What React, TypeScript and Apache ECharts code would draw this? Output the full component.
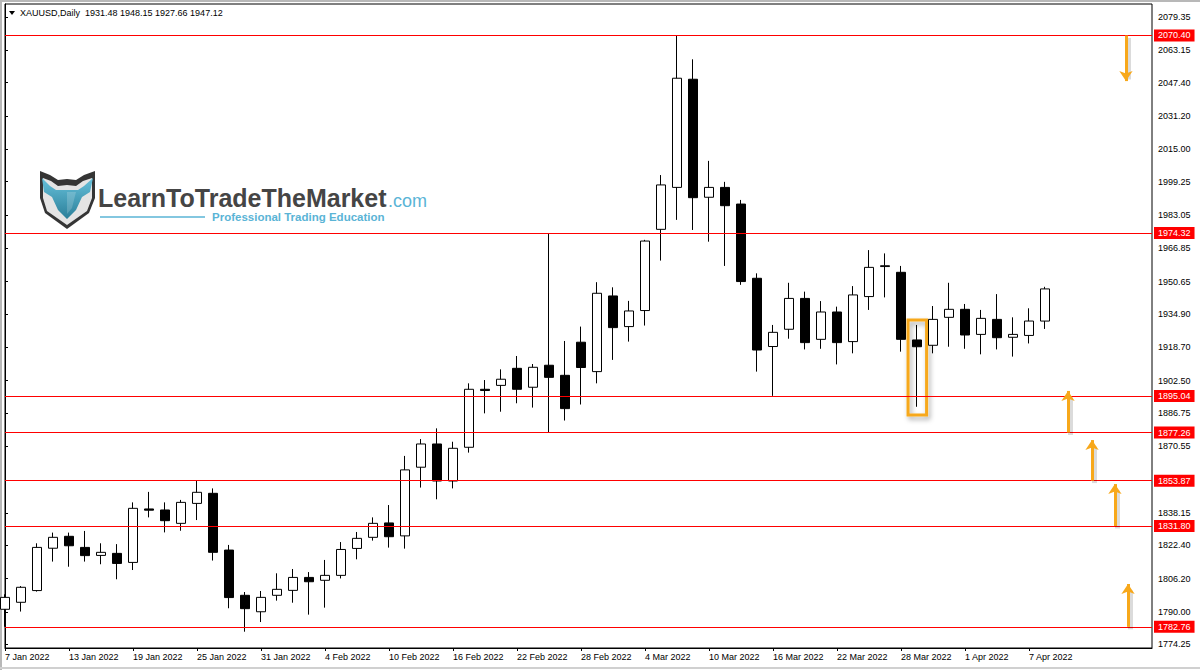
import React, { useEffect, useRef } from "react";
import * as echarts from "echarts";

// ---- data ----
const dates = [
  "7 Jan 2022", "10 Jan 2022", "11 Jan 2022", "12 Jan 2022", "13 Jan 2022", "14 Jan 2022",
  "17 Jan 2022", "18 Jan 2022", "19 Jan 2022", "20 Jan 2022", "21 Jan 2022", "24 Jan 2022",
  "25 Jan 2022", "26 Jan 2022", "27 Jan 2022", "28 Jan 2022", "31 Jan 2022", "1 Feb 2022",
  "2 Feb 2022", "3 Feb 2022", "4 Feb 2022", "7 Feb 2022", "8 Feb 2022", "9 Feb 2022",
  "10 Feb 2022", "11 Feb 2022", "14 Feb 2022", "15 Feb 2022", "16 Feb 2022", "17 Feb 2022",
  "18 Feb 2022", "21 Feb 2022", "22 Feb 2022", "23 Feb 2022", "24 Feb 2022", "25 Feb 2022",
  "28 Feb 2022", "1 Mar 2022", "2 Mar 2022", "3 Mar 2022", "4 Mar 2022", "7 Mar 2022",
  "8 Mar 2022", "9 Mar 2022", "10 Mar 2022", "11 Mar 2022", "14 Mar 2022", "15 Mar 2022",
  "16 Mar 2022", "17 Mar 2022", "18 Mar 2022", "21 Mar 2022", "22 Mar 2022", "23 Mar 2022",
  "24 Mar 2022", "25 Mar 2022", "28 Mar 2022", "29 Mar 2022", "30 Mar 2022", "31 Mar 2022",
  "1 Apr 2022", "4 Apr 2022", "5 Apr 2022", "6 Apr 2022", "7 Apr 2022", "8 Apr 2022",
];
const opens = [
  1791.3, 1794.7, 1800.4, 1821.0, 1826.8, 1821.4, 1817.5, 1818.5, 1814.1, 1840.1, 1839.6, 1833.1,
  1842.8, 1847.7, 1820.1, 1798.1, 1790.1, 1798.1, 1800.5, 1806.8, 1805.4, 1807.8, 1820.9, 1826.3,
  1833.3, 1827.0, 1860.4, 1871.7, 1853.7, 1870.1, 1898.3, 1900.2, 1908.5, 1899.3, 1910.0, 1905.1,
  1921.2, 1906.9, 1943.7, 1928.8, 1936.6, 1976.1, 1996.5, 2049.1, 1991.7, 1996.5, 1988.4, 1952.3,
  1919.1, 1927.5, 1942.5, 1922.6, 1935.9, 1921.5, 1943.4, 1958.0, 1955.2, 1922.3, 1919.7, 1933.3,
  1937.2, 1925.0, 1932.3, 1923.6, 1924.5, 1931.48,
];
const highs = [
  1798.6, 1802.6, 1823.4, 1828.6, 1828.6, 1829.4, 1823.4, 1823.0, 1843.3, 1848.4, 1843.3, 1844.5,
  1853.7, 1850.1, 1822.6, 1799.7, 1800.2, 1808.8, 1810.9, 1809.4, 1815.3, 1824.0, 1828.9, 1836.0,
  1842.0, 1865.9, 1874.1, 1879.3, 1872.8, 1901.2, 1902.8, 1908.0, 1914.5, 1910.6, 1974.32, 1921.8,
  1928.8, 1950.4, 1947.9, 1941.3, 1971.0, 2002.5, 2070.4, 2058.8, 2009.4, 1999.2, 1990.4, 1954.7,
  1929.6, 1950.1, 1945.8, 1941.2, 1938.5, 1948.5, 1966.0, 1964.4, 1958.3, 1929.6, 1938.8, 1950.1,
  1939.8, 1936.9, 1944.6, 1933.3, 1937.7, 1948.15,
];
const lows = [
  1782.8, 1790.2, 1799.9, 1814.5, 1812.0, 1814.5, 1813.2, 1805.9, 1810.4, 1836.0, 1828.7, 1829.5,
  1834.7, 1815.0, 1791.8, 1780.4, 1785.1, 1795.5, 1794.5, 1788.7, 1792.1, 1806.3, 1815.6, 1824.7,
  1821.3, 1820.8, 1850.5, 1844.8, 1850.1, 1867.5, 1886.6, 1887.4, 1891.5, 1889.4, 1877.3, 1883.1,
  1890.9, 1901.2, 1912.6, 1921.5, 1929.3, 1960.9, 1980.7, 1975.8, 1970.1, 1958.3, 1949.1, 1906.9,
  1895.1, 1922.9, 1917.7, 1918.0, 1910.4, 1915.8, 1936.9, 1943.0, 1916.6, 1889.8, 1915.8, 1919.0,
  1918.0, 1915.3, 1917.7, 1914.2, 1920.6, 1927.66,
];
const closes = [
  1797.1, 1802.0, 1821.4, 1826.3, 1822.2, 1817.4, 1819.0, 1813.6, 1840.4, 1839.5, 1834.4, 1843.3,
  1848.2, 1819.0, 1797.0, 1791.6, 1797.1, 1801.0, 1806.8, 1804.7, 1807.8, 1820.4, 1825.8, 1833.1,
  1826.6, 1859.1, 1871.7, 1853.7, 1869.6, 1898.3, 1897.7, 1903.2, 1898.3, 1909.0, 1904.1, 1888.9,
  1908.9, 1945.0, 1928.3, 1936.4, 1970.4, 1997.7, 2049.6, 1991.5, 1996.5, 1987.6, 1950.7, 1917.4,
  1926.0, 1942.5, 1921.0, 1935.9, 1921.0, 1944.2, 1957.6, 1958.4, 1922.6, 1919.0, 1932.3, 1937.2,
  1924.7, 1932.8, 1923.4, 1925.0, 1931.5, 1947.12,
];
const priceTicks = [
  2079.35, 2063.15, 2047.4, 2031.2, 2015.0, 1999.25, 1983.05, 1966.85, 1950.65, 1934.9,
  1918.7, 1902.5, 1886.75, 1870.55, 1838.15, 1822.4, 1806.2, 1790.0, 1774.25,
];
const levels = [2070.4, 1974.32, 1895.04, 1877.26, 1853.87, 1831.8, 1782.76];
// arrows: [bar position, start price, tip price]
const arrows = [
  [66.44, 1877.26, 1897.5],
  [67.94, 1853.87, 1873.6],
  [69.37, 1831.8, 1852.2],
  [70.19, 1782.76, 1803.6],
  [70.06, 2070.4, 2048.2],
];
// highlight box around the 29 Mar candle: [bar from, bar to, price low, price high]
const highlightBox = [56.44, 57.6, 1885.8, 1932.0];

const PRICE_MIN = 1772.47;
const PRICE_MAX = 2085.7;
const BARS_VISIBLE = 71.6875;

const FONT = "'Liberation Sans', Arial, sans-serif";
const ORANGE = "#F7A81B";

export default function App() {
  const ref = useRef<HTMLDivElement>(null);

  useEffect(() => {
    if (!ref.current) return;
    const chart = echarts.init(ref.current, undefined, { renderer: "svg" });

    const candleData = dates.map((_, i) => [i, opens[i], closes[i], lows[i], highs[i]]);
    const last = dates.length - 1;
    const f2 = (v: number) => v.toFixed(2);
    const labelIdx = dates.map((_, i) => i).filter((i) => i % 4 === 0);

    const markLineData: any[] = levels.map((v) => ({
      yAxis: v,
      label: { formatter: f2(v) },
    }));
    markLineData.push({
      yAxis: closes[last],
      lineStyle: { opacity: 0 },
      label: { formatter: f2(closes[last]), backgroundColor: "#000" },
    });
    // soft shadows of the arrows (drawn first, offset)
    arrows.forEach(([x, a, b]) => {
      const dir = b > a ? 1 : -1;
      markLineData.push([
        {
          coord: [x + 0.14, a - 1.2],
          symbol: "none",
          lineStyle: { color: "rgba(0,0,0,0.14)", width: 5, type: "solid" },
          label: { show: false },
        },
        { coord: [x + 0.14, b - 1.2 - dir * 2], symbol: "none" },
      ]);
    });
    arrows.forEach(([x, a, b]) => {
      markLineData.push([
        {
          coord: [x, a],
          symbol: "none",
          lineStyle: { color: ORANGE, width: 3, type: "solid" },
          label: { show: false },
        },
        { coord: [x, b], symbol: "arrow", symbolSize: [10, 10] },
      ]);
    });

    const option: any = {
      animation: false,
      backgroundColor: "#fff",
      grid: {
        left: 5,
        right: 48,
        top: 4,
        bottom: 22,
        show: true,
        borderColor: "#000",
        borderWidth: 1,
        backgroundColor: "#fff",
      },
      xAxis: {
        type: "value",
        min: 0,
        max: BARS_VISIBLE,
        splitLine: { show: false },
        axisLine: { show: true, lineStyle: { color: "#000", width: 1 } },
        axisTick: {
          show: true,
          length: 3,
          customValues: labelIdx,
          lineStyle: { color: "#000" },
        },
        axisLabel: {
          customValues: labelIdx,
          formatter: (v: number) => dates[Math.round(v)] ?? "",
          align: "left",
          margin: 4,
          color: "#000",
          fontSize: 9,
          fontFamily: FONT,
        },
      },
      yAxis: {
        type: "value",
        position: "right",
        min: PRICE_MIN,
        max: PRICE_MAX,
        scale: true,
        splitLine: { show: false },
        axisLine: { show: true, lineStyle: { color: "#000", width: 1 } },
        axisTick: {
          show: true,
          length: 3,
          customValues: priceTicks,
          lineStyle: { color: "#000" },
        },
        axisLabel: {
          customValues: priceTicks,
          formatter: (v: number) => f2(v),
          margin: 6,
          color: "#000",
          fontSize: 9,
          fontFamily: FONT,
        },
      },
      series: [
        {
          type: "candlestick",
          data: candleData,
          barWidth: 9,
          clip: true,
          itemStyle: {
            color: "#fff",
            color0: "#000",
            borderColor: "#000",
            borderColor0: "#000",
            borderColorDoji: "#000",
            borderWidth: 1,
          },
          markLine: {
            silent: true,
            symbol: "none",
            animation: false,
            lineStyle: { color: "#f00", width: 1, type: "solid" },
            label: {
              show: true,
              position: "end",
              distance: 2,
              color: "#fff",
              backgroundColor: "#f00",
              padding: [2, 4, 1, 4],
              fontSize: 9,
              fontFamily: FONT,
            },
            data: markLineData,
          },
          markArea: {
            silent: true,
            itemStyle: {
              color: "rgba(0,0,0,0)",
              borderColor: ORANGE,
              borderWidth: 3,
              shadowBlur: 5,
              shadowColor: "rgba(0,0,0,0.35)",
              shadowOffsetX: 2,
              shadowOffsetY: 3,
            },
            data: [
              [
                { coord: [highlightBox[0], highlightBox[3]] },
                { coord: [highlightBox[1], highlightBox[2]] },
              ],
            ],
          },
        },
      ],
      graphic: [
        // window edges
        { type: "rect", shape: { x: 0, y: 0, width: 1200, height: 2 }, style: { fill: "#b8b8b8" }, silent: true },
        { type: "rect", shape: { x: 0, y: 0, width: 2, height: 670 }, style: { fill: "#b8b8b8" }, silent: true },
        { type: "rect", shape: { x: 0, y: 667, width: 1200, height: 2 }, style: { fill: "#d0d0d0" }, silent: true },
        // header
        {
          type: "polygon",
          shape: { points: [[9, 11], [15, 11], [12, 15]] },
          style: { fill: "#000" },
          silent: true,
        },
        {
          type: "text",
          x: 20,
          y: 13,
          silent: true,
          style: {
            text: `XAUUSD,Daily  ${f2(opens[last])} ${f2(highs[last])} ${f2(lows[last])} ${f2(closes[last])}`,
            fill: "#000",
            font: `9px ${FONT}`,
            verticalAlign: "middle",
          },
        },
        // logo shield
        {
          type: "group",
          silent: true,
          children: [
            {
              type: "polygon",
              shape: {
                points: [[40, 171], [50, 175], [58, 180], [67, 179], [76, 180], [84, 175], [95, 171], [95, 198], [89, 213], [67, 229], [45, 213], [40, 198]],
              },
              style: { fill: "#353535" },
            },
            {
              type: "polygon",
              shape: {
                points: [[43, 178], [51, 181], [58, 186], [67, 185], [76, 186], [83, 181], [92, 178], [92, 198], [87, 211], [67, 225], [47, 211], [43, 198]],
              },
              style: { fill: "#e4e4e4" },
            },
            {
              type: "polygon",
              shape: {
                points: [[42, 178], [50, 186], [56, 190], [78, 190], [84, 186], [93, 178], [90, 192], [82, 197], [76, 210], [67, 219], [58, 210], [52, 197], [44, 192]],
              },
              style: {
                fill: new echarts.graphic.LinearGradient(0, 0, 0, 1, [
                  { offset: 0, color: "#66c0da" },
                  { offset: 1, color: "#2b7f99" },
                ]),
              },
            },
            {
              type: "polygon",
              shape: { points: [[67, 192], [76, 192], [72, 208], [67, 214]] },
              style: { fill: "rgba(255,255,255,0.18)" },
            },
          ],
        },
        {
          type: "text",
          x: 98,
          y: 198,
          silent: true,
          style: {
            text: "LearnToTradeTheMarket",
            fill: "#454545",
            font: `bold 25px ${FONT}`,
            verticalAlign: "middle",
          },
        },
        {
          type: "text",
          x: 388,
          y: 201,
          silent: true,
          style: {
            text: ".com",
            fill: "#5ab4d6",
            font: `18px ${FONT}`,
            verticalAlign: "middle",
          },
        },
        {
          type: "line",
          silent: true,
          shape: { x1: 100, y1: 217, x2: 205, y2: 217 },
          style: { stroke: "#5ab4d6", lineWidth: 1.5 },
        },
        {
          type: "text",
          x: 212,
          y: 217,
          silent: true,
          style: {
            text: "Professional Trading Education",
            fill: "#5ab4d6",
            font: `bold 11.5px ${FONT}`,
            verticalAlign: "middle",
          },
        },
      ],
    };

    chart.setOption(option);
    return () => chart.dispose();
  }, []);

  return (
    <div
      ref={ref}
      style={{ position: "absolute", left: 0, top: 0, width: 1200, height: 670 }}
    />
  );
}
